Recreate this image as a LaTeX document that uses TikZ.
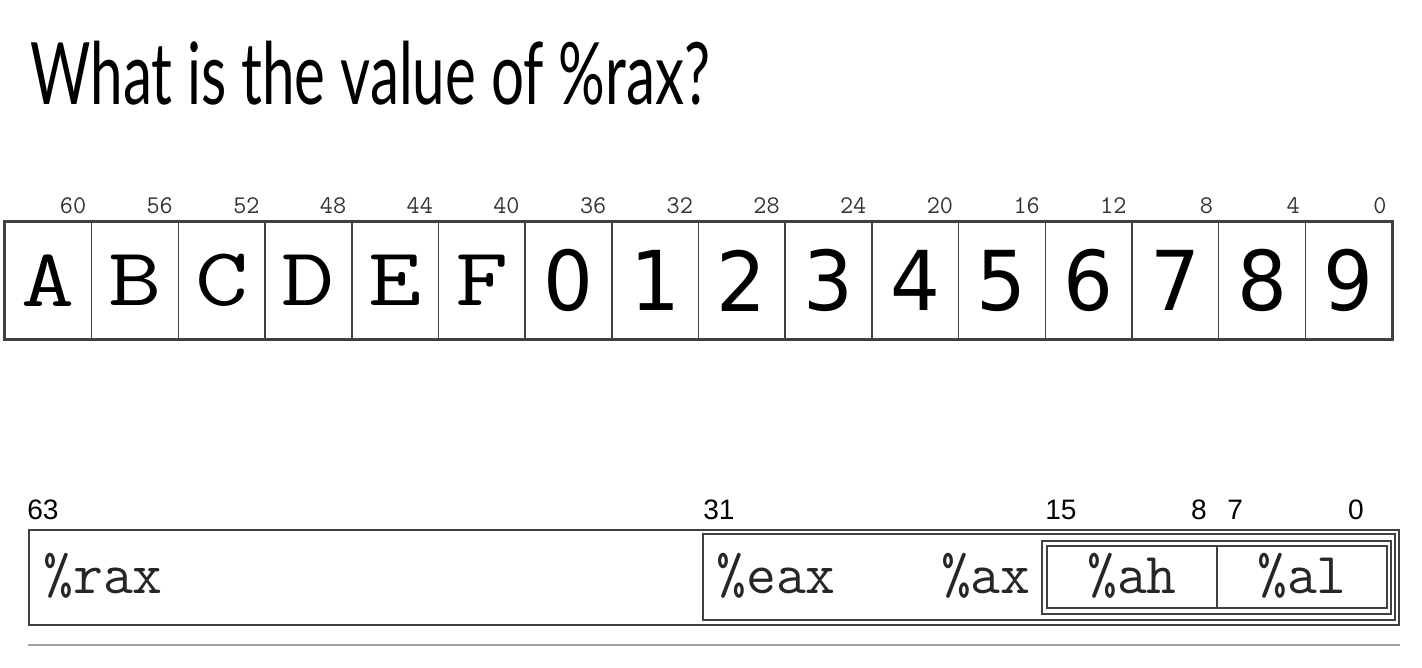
\documentclass[tikz,border=0pt]{standalone}
\usepackage{fontspec}
\newfontfamily\titlefont{Lato}
\newfontfamily\digitfont{DejaVu Sans}
\newfontfamily\bitfont{Liberation Sans}
\definecolor{FrameGray}{HTML}{404040}
\definecolor{RuleGray}{HTML}{A0A0A0}
\usetikzlibrary{
  positioning,
  fit
}

\begin{document}
\begin{tikzpicture}[
  x=0.02cm, y=-0.02cm,
  cell/.style={
    rectangle, draw=FrameGray, line width=0.9pt,
    minimum width=1.734cm, minimum height=2.34cm,
    inner sep=0pt
  },
  bitnum/.style={
    font=\ttfamily\fontsize{14.5}{14.5}\selectfont,
    text=black!80, inner sep=0pt
  },
  regbox/.style={
    rectangle, draw=FrameGray, line width=0.8pt,
    inner sep=0pt
  },
  regname/.style={
    font=\ttfamily\fontsize{33}{33}\selectfont,
    text=black!85, inner sep=0pt
  },
  reglabel/.style={
    font=\bitfont\fontsize{16}{16}\selectfont,
    inner sep=0pt
  }
]
  \useasboundingbox (0,0) rectangle (1422,668);

  % Title
  \node[anchor=base west, inner sep=0pt] (title) at (30,105)
    {\resizebox{13.6cm}{\height}{\titlefont\fontsize{49}{49}\selectfont What is the value of \%rax?}};

  % Value in hex digits, one cell per nibble
  \foreach \ch/\fnt/\sx [count=\i from 0] in
    {A/\ttfamily/1.25, B/\ttfamily/1.25, C/\ttfamily/1.25, D/\ttfamily/1.25,
     E/\ttfamily/1.25, F/\ttfamily/1.25,
     0/\digitfont/0.95, 1/\digitfont/0.95, 2/\digitfont/0.95, 3/\digitfont/0.95,
     4/\digitfont/0.95, 5/\digitfont/0.95, 6/\digitfont/0.95, 7/\digitfont/0.95,
     8/\digitfont/0.95, 9/\digitfont/0.95}
  {
    \node[cell, font=\fnt\fontsize{47}{47}\selectfont]
      (c\i) at ({5+86.69*(\i+0.5)},280.5) {\scalebox{\sx}[1]{\ch}};
    \pgfmathtruncatemacro{\bit}{60-4*\i}
    \node[bitnum, anchor=south east] (b\i)
      at ([xshift=-0.12cm, yshift=0.14cm]c\i.north east) {\bit};
  }
  \draw[FrameGray, line width=1.1pt] (c0.north west) rectangle (c15.south east);

  % Register layout
  \node[regbox, line width=1.3pt, fit={(29,530) (1399,625)}] (rax) {};
  \node[regbox, fit={(703,534) (1395,620)}] (eax) {};
  \node[regbox, fit={(1042,541) (1391,614)}] (ax) {};
  \node[regbox, fit={(1047,546) (1217,608)}] (ah) {};
  \node[regbox, fit={(1217,546) (1387,608)}] (al) {};

  \node[regname, anchor=base west] (raxname) at (43,593) {\%rax};
  \node[regname, anchor=base west] (eaxname) at (716,593) {\%eax};
  \node[regname, anchor=base east] (axname) at (1031,593) {\%ax};
  \node[regname, anchor=base] (ahname) at (ah.center |- 0,593) {\%ah};
  \node[regname, anchor=base] (alname) at (al.center |- 0,593) {\%al};

  % Bit positions
  \node[reglabel, anchor=base west] (l63) at (27,519) {63};
  \node[reglabel, anchor=base west] (l31) at (703,519) {31};
  \node[reglabel, anchor=base west] (l15) at (1045,519) {15};
  \node[reglabel, anchor=base east] (l8) at (1207,519) {8};
  \node[reglabel, anchor=base west] (l7) at (1227,519) {7};
  \node[reglabel, anchor=base] (l0) at (1356,519) {0};

  \draw[RuleGray, line width=0.8pt]
    ([yshift=-0.38cm]rax.south west) -- ([yshift=-0.38cm]rax.south east);
\end{tikzpicture}
\end{document}
